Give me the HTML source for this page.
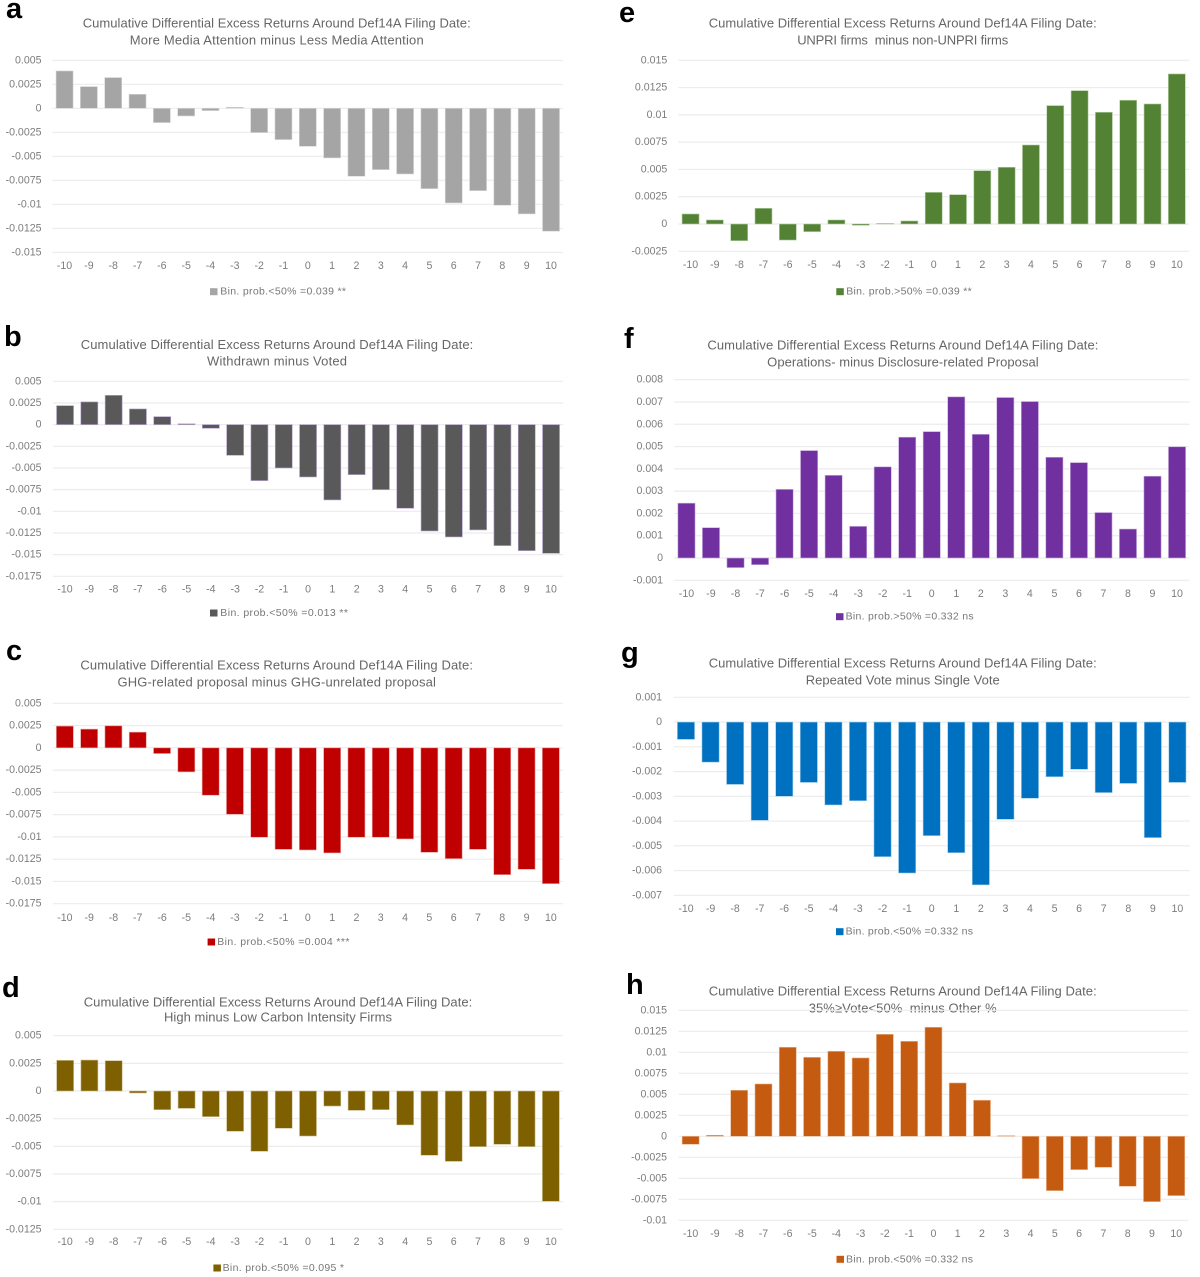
<!DOCTYPE html>
<html lang="en">
<head>
<meta charset="utf-8">
<title>Cumulative Differential Excess Returns Around Def14A Filing Date</title>
<style>
html,body{margin:0;padding:0;background:#fff;width:1200px;height:1277px;overflow:hidden}
svg{display:block;filter:blur(0.35px)}
text{font-family:"Liberation Sans",sans-serif;white-space:pre}
.letter{font-size:29px;font-weight:bold;fill:#000}
.title{font-size:13px;fill:#666;text-anchor:middle;dominant-baseline:central}
.legend{font-size:10.5px;fill:#777;dominant-baseline:central}
.tick{font-size:10.6px;fill:#7c7c7c;dominant-baseline:central}
.grid{stroke:#ececec;stroke-width:1.2}
</style>
</head>
<body>
<svg id="figure" width="1200" height="1277" viewBox="0 0 1200 1277" xmlns="http://www.w3.org/2000/svg">
  <g id="panel-a">
    <text class="letter" x="6" y="18">a</text>
    <text class="title" x="276.7" y="23" textLength="388">Cumulative Differential Excess Returns Around Def14A Filing Date:</text>
    <text class="title" x="276.7" y="40" textLength="294">More Media Attention minus Less Media Attention</text>
    <rect x="210" y="288.2" width="7.5" height="7" fill="#a5a5a5"></rect>
    <text class="legend" x="220.3" y="291.7" textLength="125.7">Bin. prob.&lt;50% =0.039 **</text>
  </g>
  <g id="panel-b">
    <text class="letter" x="4" y="346">b</text>
    <text class="title" x="277" y="344.7" textLength="392.6">Cumulative Differential Excess Returns Around Def14A Filing Date:</text>
    <text class="title" x="277" y="361" textLength="140">Withdrawn minus Voted</text>
    <rect x="210" y="609.5" width="7.5" height="7" fill="#595959"></rect>
    <text class="legend" x="220.3" y="613" textLength="127.7">Bin. prob.&lt;50% =0.013 **</text>
  </g>
  <g id="panel-c">
    <text class="letter" x="6" y="660">c</text>
    <text class="title" x="276.7" y="665" textLength="392.6">Cumulative Differential Excess Returns Around Def14A Filing Date:</text>
    <text class="title" x="276.7" y="682" textLength="318.5">GHG-related proposal minus GHG-unrelated proposal</text>
    <rect x="207.6" y="938.5" width="7.5" height="7" fill="#c00000"></rect>
    <text class="legend" x="217.2" y="942" textLength="132.3">Bin. prob.&lt;50% =0.004 ***</text>
  </g>
  <g id="panel-d">
    <text class="letter" x="2" y="997">d</text>
    <text class="title" x="278" y="1002" textLength="388.5">Cumulative Differential Excess Returns Around Def14A Filing Date:</text>
    <text class="title" x="278" y="1017" textLength="228">High minus Low Carbon Intensity Firms</text>
    <rect x="213.4" y="1264.5" width="7.5" height="7" fill="#7f6000"></rect>
    <text class="legend" x="222.6" y="1268" textLength="121.4">Bin. prob.&lt;50% =0.095 *</text>
  </g>
  <g id="panel-e">
    <text class="letter" x="619" y="22">e</text>
    <text class="title" x="902.7" y="23" textLength="388">Cumulative Differential Excess Returns Around Def14A Filing Date:</text>
    <text class="title" x="902.7" y="40" textLength="211">UNPRI firms  minus non-UNPRI firms</text>
    <rect x="836.3" y="288.2" width="7.5" height="7" fill="#548235"></rect>
    <text class="legend" x="846.2" y="291.7" textLength="125.5">Bin. prob.&gt;50% =0.039 **</text>
  </g>
  <g id="panel-f">
    <text class="letter" x="624" y="348">f</text>
    <text class="title" x="902.9" y="345" textLength="391">Cumulative Differential Excess Returns Around Def14A Filing Date:</text>
    <text class="title" x="902.9" y="362" textLength="271.5">Operations- minus Disclosure-related Proposal</text>
    <rect x="836" y="613.2" width="7.5" height="7" fill="#7030a0"></rect>
    <text class="legend" x="845.6" y="616.7" textLength="128">Bin. prob.&gt;50% =0.332 ns</text>
  </g>
  <g id="panel-g">
    <text class="letter" x="621" y="662">g</text>
    <text class="title" x="902.7" y="663" textLength="388">Cumulative Differential Excess Returns Around Def14A Filing Date:</text>
    <text class="title" x="902.7" y="680" textLength="194">Repeated Vote minus Single Vote</text>
    <rect x="836" y="928.2" width="7.5" height="7" fill="#0070c0"></rect>
    <text class="legend" x="845.6" y="931.7" textLength="127.4">Bin. prob.&lt;50% =0.332 ns</text>
  </g>
  <g id="panel-h">
    <text class="letter" x="626" y="994">h</text>
    <text class="title" x="902.7" y="991" textLength="388">Cumulative Differential Excess Returns Around Def14A Filing Date:</text>
    <text class="title" x="902.7" y="1008" textLength="188">35%≥Vote&lt;50%  minus Other %</text>
    <rect x="836.5" y="1255.8" width="7.5" height="7" fill="#c55a11"></rect>
    <text class="legend" x="846" y="1259.3" textLength="127">Bin. prob.&lt;50% =0.332 ns</text>
  </g>
</svg>
<script>
const categories = ["-10","-9","-8","-7","-6","-5","-4","-3","-2","-1","0","1","2","3","4","5","6","7","8","9","10"];

const yTicksA = ["0.005","0.0025","0","-0.0025","-0.005","-0.0075","-0.01","-0.0125","-0.015"];
const valuesA = [0.00389,0.00226,0.0032,0.00146,-0.00149,-0.0008,-0.00024,0.0001,-0.00253,-0.00326,-0.00396,-0.00517,-0.00708,-0.00639,-0.00684,-0.00837,-0.00986,-0.00858,-0.0101,-0.011,-0.0128];

const yTicksB = ["0.005","0.0025","0","-0.0025","-0.005","-0.0075","-0.01","-0.0125","-0.015","-0.0175"];
const valuesB = [0.00219,0.00262,0.00338,0.00181,0.00092,0.0001,-0.00042,-0.00354,-0.00646,-0.005,-0.00604,-0.00869,-0.00577,-0.0075,-0.00965,-0.01227,-0.01296,-0.01215,-0.01396,-0.01454,-0.01485];

const yTicksC = ["0.005","0.0025","0","-0.0025","-0.005","-0.0075","-0.01","-0.0125","-0.015","-0.0175"];
const valuesC = [0.00244,0.0021,0.00247,0.00176,-0.00064,-0.0027,-0.00532,-0.00746,-0.01004,-0.0114,-0.01147,-0.0118,-0.01004,-0.01004,-0.01023,-0.01173,-0.01244,-0.0114,-0.01424,-0.01364,-0.01525];

const yTicksD = ["0.005","0.0025","0","-0.0025","-0.005","-0.0075","-0.01","-0.0125"];
const valuesD = [0.00277,0.0028,0.00274,-0.00018,-0.00169,-0.00157,-0.00232,-0.00364,-0.00545,-0.00337,-0.00407,-0.00136,-0.00175,-0.00169,-0.00307,-0.00581,-0.00636,-0.00503,-0.00482,-0.00503,-0.00997];

const yTicksE = ["0.015","0.0125","0.01","0.0075","0.005","0.0025","0","-0.0025"];
const valuesE = [0.00092,0.00037,-0.00153,0.00144,-0.00147,-0.0007,0.00037,-0.00012,0.00006,0.00028,0.0029,0.00269,0.00489,0.0052,0.00724,0.01085,0.01222,0.01024,0.01134,0.011,0.01375];

const yTicksF = ["0.008","0.007","0.006","0.005","0.004","0.003","0.002","0.001","0","-0.001"];
const valuesF = [0.00246,0.00136,-0.00043,-0.0003,0.00308,0.00482,0.00371,0.00142,0.00409,0.00542,0.00567,0.00723,0.00555,0.0072,0.00702,0.00452,0.00428,0.00204,0.0013,0.00367,0.00499];

const yTicksG = ["0.001","0","-0.001","-0.002","-0.003","-0.004","-0.005","-0.006","-0.007"];
const valuesG = [-0.0007,-0.00162,-0.00252,-0.00397,-0.003,-0.00244,-0.00335,-0.00318,-0.00544,-0.0061,-0.00459,-0.00528,-0.00658,-0.00393,-0.00308,-0.00221,-0.00191,-0.00285,-0.00248,-0.00467,-0.00244];

const yTicksH = ["0.015","0.0125","0.01","0.0075","0.005","0.0025","0","-0.0025","-0.005","-0.0075","-0.01"];
const valuesH = [-0.00095,0.00012,0.00548,0.00623,0.0106,0.0094,0.01012,0.00933,0.01214,0.01131,0.01298,0.00635,0.00429,0.00008,-0.00504,-0.00647,-0.00397,-0.00369,-0.00595,-0.00778,-0.00706];

const SVG_NS = "http://www.w3.org/2000/svg";

function drawPanel(id, values, ticks, box, fill, edge) {
  const group = document.getElementById("panel-" + id);
  const tickNumbers = ticks.map(Number);
  const maxV = Math.max.apply(null, tickNumbers);
  const minV = Math.min.apply(null, tickNumbers);
  const yAxis = function (v) {
    return box.top + (maxV - v) / (maxV - minV) * (box.bottom - box.top);
  };
  const band = (box.right - box.left) / categories.length;
  const xAxis = function (i) {
    return box.left + band * (i + 0.5);
  };

  ticks.forEach(function (label, i) {
    const line = document.createElementNS(SVG_NS, "line");
    line.setAttribute("x1", box.left);
    line.setAttribute("x2", box.right);
    line.setAttribute("y1", yAxis(tickNumbers[i]));
    line.setAttribute("y2", yAxis(tickNumbers[i]));
    line.setAttribute("class", "grid");
    
    
    group.appendChild(line);

    const text = document.createElementNS(SVG_NS, "text");
    text.setAttribute("x", box.labelRight);
    text.setAttribute("y", yAxis(tickNumbers[i]));
    text.setAttribute("text-anchor", "end");
    text.setAttribute("class", "tick");
    
    
    text.textContent = label;
    group.appendChild(text);
  });

  const barWidth = band * 0.7;
  values.forEach(function (v, i) {
    const rect = document.createElementNS(SVG_NS, "rect");
    rect.setAttribute("x", xAxis(i) - barWidth / 2);
    rect.setAttribute("width", barWidth);
    rect.setAttribute("y", Math.min(yAxis(v), yAxis(0)));
    rect.setAttribute("height", Math.abs(yAxis(v) - yAxis(0)));
    rect.setAttribute("fill", fill);
    rect.setAttribute("stroke", edge);
    rect.setAttribute("stroke-width", "0.6");
    
    
    group.appendChild(rect);
  });

  categories.forEach(function (label, i) {
    const text = document.createElementNS(SVG_NS, "text");
    text.setAttribute("x", xAxis(i));
    text.setAttribute("y", box.xLabelY);
    text.setAttribute("text-anchor", "middle");
    text.setAttribute("class", "tick");
    
    
    text.textContent = label;
    group.appendChild(text);
  });
}

drawPanel("a", valuesA, yTicksA, {left:52.4, right:563.2, top:60.3, bottom:252.3, labelRight:41.5, xLabelY:266}, "#a5a5a5", "#d8d8d8");
drawPanel("b", valuesB, yTicksB, {left:52.9, right:563.2, top:381.3, bottom:576.3, labelRight:41.5, xLabelY:589.5}, "#595959", "#b7a2cf");
drawPanel("c", valuesC, yTicksC, {left:52.7, right:563, top:703.3, bottom:903.7, labelRight:41.5, xLabelY:918}, "#c00000", "#e8a0a0");
drawPanel("d", valuesD, yTicksD, {left:53, right:563, top:1035.7, bottom:1229.3, labelRight:41.5, xLabelY:1242}, "#7f6000", "#cdbf95");
drawPanel("e", valuesE, yTicksE, {left:678.4, right:1189, top:60.3, bottom:251.3, labelRight:667.3, xLabelY:265}, "#548235", "#b6cfa8");
drawPanel("f", valuesF, yTicksF, {left:674.2, right:1189.3, top:379.7, bottom:580.3, labelRight:663, xLabelY:594}, "#7030a0", "#c9aede");
drawPanel("g", valuesG, yTicksG, {left:673.7, right:1189.7, top:697.3, bottom:895.3, labelRight:662, xLabelY:909}, "#0070c0", "#9fcde8");
drawPanel("h", valuesH, yTicksH, {left:678.5, right:1188.4, top:1010.3, bottom:1220.3, labelRight:667, xLabelY:1234}, "#c55a11", "#eab892");
</script>
</body>
</html>
